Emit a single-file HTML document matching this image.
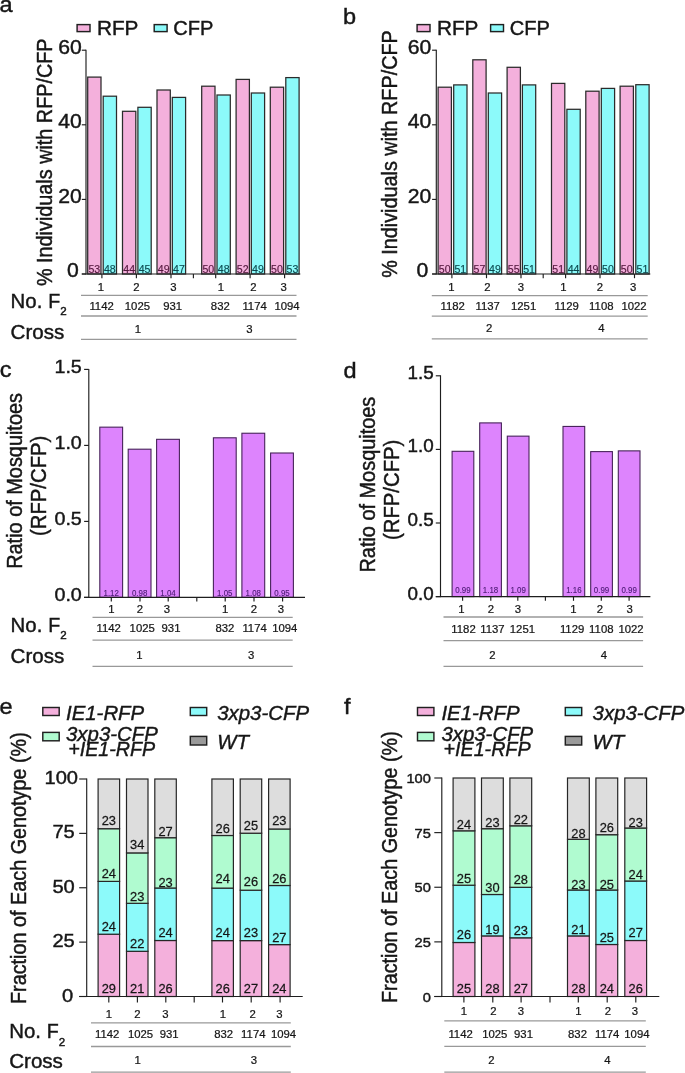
<!DOCTYPE html>
<html><head><meta charset="utf-8"><title>Figure</title>
<style>
html,body{margin:0;padding:0;background:#fff;}
body{width:685px;height:1073px;overflow:hidden;}
svg{display:block;font-family:"Liberation Sans",sans-serif;filter:blur(0.45px);}
</style></head><body>
<svg width="685" height="1073" viewBox="0 0 685 1073">
<rect x="0" y="0" width="685" height="1073" fill="#ffffff"/>
<text transform="translate(-0.60,11.80) scale(1.07,1)" font-size="22" text-anchor="start" fill="#161616" stroke="#161616" stroke-width="0.42">a</text>
<rect x="77.10" y="24.60" width="12.90" height="7.00" fill="#f4b0dc" stroke="#202020" stroke-width="1.45"/>
<text transform="translate(96.90,34.50) scale(1.07,1)" font-size="19.4" text-anchor="start" fill="#161616" stroke="#161616" stroke-width="0.42">RFP</text>
<rect x="154.20" y="24.60" width="12.90" height="7.00" fill="#8cfafa" stroke="#202020" stroke-width="1.45"/>
<text transform="translate(173.30,34.50) scale(1.035,1)" font-size="19.4" text-anchor="start" fill="#161616" stroke="#161616" stroke-width="0.42">CFP</text>
<text transform="translate(51.80,286.00) scale(1.07,1) rotate(-90)" font-size="19.8" text-anchor="start" fill="#161616" stroke="#161616" stroke-width="0.42">% Individuals with RFP/CFP</text>
<rect x="87.70" y="77.10" width="13.30" height="196.90" fill="#f4b0dc" stroke="#2b2b2b" stroke-width="1.25"/>
<text transform="translate(94.35,272.60) scale(1.0,1)" font-size="10.6" text-anchor="middle" fill="#55183f" stroke="#55183f" stroke-width="0.15">53</text>
<rect x="122.50" y="111.30" width="13.30" height="162.70" fill="#f4b0dc" stroke="#2b2b2b" stroke-width="1.25"/>
<text transform="translate(129.15,272.60) scale(1.0,1)" font-size="10.6" text-anchor="middle" fill="#55183f" stroke="#55183f" stroke-width="0.15">44</text>
<rect x="157.00" y="90.00" width="13.30" height="184.00" fill="#f4b0dc" stroke="#2b2b2b" stroke-width="1.25"/>
<text transform="translate(163.65,272.60) scale(1.0,1)" font-size="10.6" text-anchor="middle" fill="#55183f" stroke="#55183f" stroke-width="0.15">49</text>
<rect x="201.70" y="86.20" width="13.30" height="187.80" fill="#f4b0dc" stroke="#2b2b2b" stroke-width="1.25"/>
<text transform="translate(208.35,272.60) scale(1.0,1)" font-size="10.6" text-anchor="middle" fill="#55183f" stroke="#55183f" stroke-width="0.15">50</text>
<rect x="236.10" y="79.40" width="13.30" height="194.60" fill="#f4b0dc" stroke="#2b2b2b" stroke-width="1.25"/>
<text transform="translate(242.75,272.60) scale(1.0,1)" font-size="10.6" text-anchor="middle" fill="#55183f" stroke="#55183f" stroke-width="0.15">52</text>
<rect x="270.30" y="87.20" width="13.30" height="186.80" fill="#f4b0dc" stroke="#2b2b2b" stroke-width="1.25"/>
<text transform="translate(276.95,272.60) scale(1.0,1)" font-size="10.6" text-anchor="middle" fill="#55183f" stroke="#55183f" stroke-width="0.15">50</text>
<rect x="103.20" y="96.20" width="13.30" height="177.80" fill="#8cfafa" stroke="#2b2b2b" stroke-width="1.25"/>
<text transform="translate(109.85,272.60) scale(1.0,1)" font-size="10.6" text-anchor="middle" fill="#0c4a50" stroke="#0c4a50" stroke-width="0.15">48</text>
<rect x="137.90" y="107.30" width="13.30" height="166.70" fill="#8cfafa" stroke="#2b2b2b" stroke-width="1.25"/>
<text transform="translate(144.55,272.60) scale(1.0,1)" font-size="10.6" text-anchor="middle" fill="#0c4a50" stroke="#0c4a50" stroke-width="0.15">45</text>
<rect x="172.30" y="97.40" width="13.30" height="176.60" fill="#8cfafa" stroke="#2b2b2b" stroke-width="1.25"/>
<text transform="translate(178.95,272.60) scale(1.0,1)" font-size="10.6" text-anchor="middle" fill="#0c4a50" stroke="#0c4a50" stroke-width="0.15">47</text>
<rect x="217.00" y="95.00" width="13.30" height="179.00" fill="#8cfafa" stroke="#2b2b2b" stroke-width="1.25"/>
<text transform="translate(223.65,272.60) scale(1.0,1)" font-size="10.6" text-anchor="middle" fill="#0c4a50" stroke="#0c4a50" stroke-width="0.15">48</text>
<rect x="251.30" y="93.00" width="13.30" height="181.00" fill="#8cfafa" stroke="#2b2b2b" stroke-width="1.25"/>
<text transform="translate(257.95,272.60) scale(1.0,1)" font-size="10.6" text-anchor="middle" fill="#0c4a50" stroke="#0c4a50" stroke-width="0.15">49</text>
<rect x="285.80" y="77.60" width="13.30" height="196.40" fill="#8cfafa" stroke="#2b2b2b" stroke-width="1.25"/>
<text transform="translate(292.45,272.60) scale(1.0,1)" font-size="10.6" text-anchor="middle" fill="#0c4a50" stroke="#0c4a50" stroke-width="0.15">53</text>
<line x1="86.00" y1="49.70" x2="86.00" y2="274.50" stroke="#1e1e1e" stroke-width="1.15"/>
<line x1="81.80" y1="274.00" x2="86.00" y2="274.00" stroke="#1e1e1e" stroke-width="1.15"/>
<text transform="translate(78.70,277.40) scale(1.07,1)" font-size="19.8" text-anchor="end" fill="#161616" stroke="#161616" stroke-width="0.42">0</text>
<line x1="81.80" y1="199.40" x2="86.00" y2="199.40" stroke="#1e1e1e" stroke-width="1.15"/>
<text transform="translate(81.70,202.80) scale(1.07,1)" font-size="19.8" text-anchor="end" fill="#161616" stroke="#161616" stroke-width="0.42">20</text>
<line x1="81.80" y1="124.80" x2="86.00" y2="124.80" stroke="#1e1e1e" stroke-width="1.15"/>
<text transform="translate(81.70,128.20) scale(1.07,1)" font-size="19.8" text-anchor="end" fill="#161616" stroke="#161616" stroke-width="0.42">40</text>
<line x1="81.80" y1="50.20" x2="86.00" y2="50.20" stroke="#1e1e1e" stroke-width="1.15"/>
<text transform="translate(81.70,53.60) scale(1.07,1)" font-size="19.8" text-anchor="end" fill="#161616" stroke="#161616" stroke-width="0.42">60</text>
<line x1="81.80" y1="274.00" x2="300.30" y2="274.00" stroke="#1e1e1e" stroke-width="1.15"/>
<line x1="101.90" y1="274.00" x2="101.90" y2="278.20" stroke="#1e1e1e" stroke-width="1.15"/>
<line x1="136.40" y1="274.00" x2="136.40" y2="278.20" stroke="#1e1e1e" stroke-width="1.15"/>
<line x1="171.00" y1="274.00" x2="171.00" y2="278.20" stroke="#1e1e1e" stroke-width="1.15"/>
<line x1="193.40" y1="274.00" x2="193.40" y2="278.20" stroke="#1e1e1e" stroke-width="1.15"/>
<line x1="215.70" y1="274.00" x2="215.70" y2="278.20" stroke="#1e1e1e" stroke-width="1.15"/>
<line x1="250.10" y1="274.00" x2="250.10" y2="278.20" stroke="#1e1e1e" stroke-width="1.15"/>
<line x1="284.60" y1="274.00" x2="284.60" y2="278.20" stroke="#1e1e1e" stroke-width="1.15"/>
<line x1="81.00" y1="295.40" x2="296.50" y2="295.40" stroke="#999999" stroke-width="1.3"/>
<line x1="81.00" y1="316.00" x2="296.50" y2="316.00" stroke="#999999" stroke-width="1.3"/>
<line x1="81.00" y1="339.40" x2="296.50" y2="339.40" stroke="#999999" stroke-width="1.3"/>
<text transform="translate(101.00,290.60) scale(1.07,1)" font-size="10.6" text-anchor="middle" fill="#161616" stroke="#161616" stroke-width="0.22">1</text>
<text transform="translate(136.40,290.60) scale(1.07,1)" font-size="10.6" text-anchor="middle" fill="#161616" stroke="#161616" stroke-width="0.22">2</text>
<text transform="translate(173.30,290.60) scale(1.07,1)" font-size="10.6" text-anchor="middle" fill="#161616" stroke="#161616" stroke-width="0.22">3</text>
<text transform="translate(221.00,290.60) scale(1.07,1)" font-size="10.6" text-anchor="middle" fill="#161616" stroke="#161616" stroke-width="0.22">1</text>
<text transform="translate(253.40,290.60) scale(1.07,1)" font-size="10.6" text-anchor="middle" fill="#161616" stroke="#161616" stroke-width="0.22">2</text>
<text transform="translate(283.70,290.60) scale(1.07,1)" font-size="10.6" text-anchor="middle" fill="#161616" stroke="#161616" stroke-width="0.22">3</text>
<text transform="translate(101.60,310.00) scale(1.07,1)" font-size="10.6" text-anchor="middle" fill="#161616" stroke="#161616" stroke-width="0.22">1142</text>
<text transform="translate(137.40,310.00) scale(1.07,1)" font-size="10.6" text-anchor="middle" fill="#161616" stroke="#161616" stroke-width="0.22">1025</text>
<text transform="translate(172.60,310.00) scale(1.07,1)" font-size="10.6" text-anchor="middle" fill="#161616" stroke="#161616" stroke-width="0.22">931</text>
<text transform="translate(220.30,310.00) scale(1.07,1)" font-size="10.6" text-anchor="middle" fill="#161616" stroke="#161616" stroke-width="0.22">832</text>
<text transform="translate(254.60,310.00) scale(1.07,1)" font-size="10.6" text-anchor="middle" fill="#161616" stroke="#161616" stroke-width="0.22">1174</text>
<text transform="translate(287.00,310.00) scale(1.07,1)" font-size="10.6" text-anchor="middle" fill="#161616" stroke="#161616" stroke-width="0.22">1094</text>
<text transform="translate(137.80,332.70) scale(1.07,1)" font-size="10.6" text-anchor="middle" fill="#161616" stroke="#161616" stroke-width="0.22">1</text>
<text transform="translate(249.50,332.70) scale(1.07,1)" font-size="10.6" text-anchor="middle" fill="#161616" stroke="#161616" stroke-width="0.22">3</text>
<text transform="translate(10.60,308.20) scale(1.04,1)" font-size="19.6" text-anchor="start" fill="#161616" stroke="#161616" stroke-width="0.42">No.</text>
<text transform="translate(48.20,308.20) scale(1.0,1)" font-size="19.6" text-anchor="start" fill="#161616" stroke="#161616" stroke-width="0.42">F</text>
<text transform="translate(60.20,315.40) scale(1.07,1)" font-size="10.8" text-anchor="start" fill="#161616" stroke="#161616" stroke-width="0.42">2</text>
<text transform="translate(10.60,339.00) scale(1.05,1)" font-size="19.6" text-anchor="start" fill="#161616" stroke="#161616" stroke-width="0.42">Cross</text>
<text transform="translate(343.00,23.80) scale(1.07,1)" font-size="22" text-anchor="start" fill="#161616" stroke="#161616" stroke-width="0.42">b</text>
<rect x="417.10" y="24.60" width="12.90" height="7.00" fill="#f4b0dc" stroke="#202020" stroke-width="1.45"/>
<text transform="translate(436.90,34.50) scale(1.07,1)" font-size="19.4" text-anchor="start" fill="#161616" stroke="#161616" stroke-width="0.42">RFP</text>
<rect x="490.60" y="24.60" width="12.90" height="7.00" fill="#8cfafa" stroke="#202020" stroke-width="1.45"/>
<text transform="translate(509.80,34.50) scale(1.035,1)" font-size="19.4" text-anchor="start" fill="#161616" stroke="#161616" stroke-width="0.42">CFP</text>
<text transform="translate(396.90,277.80) scale(1.07,1) rotate(-90)" font-size="19.8" text-anchor="start" fill="#161616" stroke="#161616" stroke-width="0.42">% Individuals with RFP/CFP</text>
<rect x="438.10" y="87.20" width="13.30" height="186.80" fill="#f4b0dc" stroke="#2b2b2b" stroke-width="1.25"/>
<text transform="translate(444.75,272.60) scale(1.0,1)" font-size="10.6" text-anchor="middle" fill="#55183f" stroke="#55183f" stroke-width="0.15">50</text>
<rect x="472.80" y="59.80" width="13.30" height="214.20" fill="#f4b0dc" stroke="#2b2b2b" stroke-width="1.25"/>
<text transform="translate(479.45,272.60) scale(1.0,1)" font-size="10.6" text-anchor="middle" fill="#55183f" stroke="#55183f" stroke-width="0.15">57</text>
<rect x="507.10" y="67.30" width="13.30" height="206.70" fill="#f4b0dc" stroke="#2b2b2b" stroke-width="1.25"/>
<text transform="translate(513.75,272.60) scale(1.0,1)" font-size="10.6" text-anchor="middle" fill="#55183f" stroke="#55183f" stroke-width="0.15">55</text>
<rect x="551.50" y="83.40" width="13.30" height="190.60" fill="#f4b0dc" stroke="#2b2b2b" stroke-width="1.25"/>
<text transform="translate(558.15,272.60) scale(1.0,1)" font-size="10.6" text-anchor="middle" fill="#55183f" stroke="#55183f" stroke-width="0.15">51</text>
<rect x="585.80" y="91.20" width="13.30" height="182.80" fill="#f4b0dc" stroke="#2b2b2b" stroke-width="1.25"/>
<text transform="translate(592.45,272.60) scale(1.0,1)" font-size="10.6" text-anchor="middle" fill="#55183f" stroke="#55183f" stroke-width="0.15">49</text>
<rect x="620.10" y="86.20" width="13.30" height="187.80" fill="#f4b0dc" stroke="#2b2b2b" stroke-width="1.25"/>
<text transform="translate(626.75,272.60) scale(1.0,1)" font-size="10.6" text-anchor="middle" fill="#55183f" stroke="#55183f" stroke-width="0.15">50</text>
<rect x="453.70" y="84.90" width="13.30" height="189.10" fill="#8cfafa" stroke="#2b2b2b" stroke-width="1.25"/>
<text transform="translate(460.35,272.60) scale(1.0,1)" font-size="10.6" text-anchor="middle" fill="#0c4a50" stroke="#0c4a50" stroke-width="0.15">51</text>
<rect x="488.30" y="93.00" width="13.30" height="181.00" fill="#8cfafa" stroke="#2b2b2b" stroke-width="1.25"/>
<text transform="translate(494.95,272.60) scale(1.0,1)" font-size="10.6" text-anchor="middle" fill="#0c4a50" stroke="#0c4a50" stroke-width="0.15">49</text>
<rect x="522.40" y="84.90" width="13.30" height="189.10" fill="#8cfafa" stroke="#2b2b2b" stroke-width="1.25"/>
<text transform="translate(529.05,272.60) scale(1.0,1)" font-size="10.6" text-anchor="middle" fill="#0c4a50" stroke="#0c4a50" stroke-width="0.15">51</text>
<rect x="566.90" y="109.30" width="13.30" height="164.70" fill="#8cfafa" stroke="#2b2b2b" stroke-width="1.25"/>
<text transform="translate(573.55,272.60) scale(1.0,1)" font-size="10.6" text-anchor="middle" fill="#0c4a50" stroke="#0c4a50" stroke-width="0.15">44</text>
<rect x="601.30" y="88.40" width="13.30" height="185.60" fill="#8cfafa" stroke="#2b2b2b" stroke-width="1.25"/>
<text transform="translate(607.95,272.60) scale(1.0,1)" font-size="10.6" text-anchor="middle" fill="#0c4a50" stroke="#0c4a50" stroke-width="0.15">50</text>
<rect x="635.80" y="84.70" width="13.30" height="189.30" fill="#8cfafa" stroke="#2b2b2b" stroke-width="1.25"/>
<text transform="translate(642.45,272.60) scale(1.0,1)" font-size="10.6" text-anchor="middle" fill="#0c4a50" stroke="#0c4a50" stroke-width="0.15">51</text>
<line x1="436.30" y1="49.70" x2="436.30" y2="274.50" stroke="#1e1e1e" stroke-width="1.15"/>
<line x1="432.10" y1="274.00" x2="436.30" y2="274.00" stroke="#1e1e1e" stroke-width="1.15"/>
<text transform="translate(428.20,277.40) scale(1.07,1)" font-size="19.8" text-anchor="end" fill="#161616" stroke="#161616" stroke-width="0.42">0</text>
<line x1="432.10" y1="199.40" x2="436.30" y2="199.40" stroke="#1e1e1e" stroke-width="1.15"/>
<text transform="translate(431.20,202.80) scale(1.07,1)" font-size="19.8" text-anchor="end" fill="#161616" stroke="#161616" stroke-width="0.42">20</text>
<line x1="432.10" y1="124.80" x2="436.30" y2="124.80" stroke="#1e1e1e" stroke-width="1.15"/>
<text transform="translate(431.20,128.20) scale(1.07,1)" font-size="19.8" text-anchor="end" fill="#161616" stroke="#161616" stroke-width="0.42">40</text>
<line x1="432.10" y1="50.20" x2="436.30" y2="50.20" stroke="#1e1e1e" stroke-width="1.15"/>
<text transform="translate(431.20,53.60) scale(1.07,1)" font-size="19.8" text-anchor="end" fill="#161616" stroke="#161616" stroke-width="0.42">60</text>
<line x1="432.10" y1="274.00" x2="650.30" y2="274.00" stroke="#1e1e1e" stroke-width="1.15"/>
<line x1="451.90" y1="274.00" x2="451.90" y2="278.20" stroke="#1e1e1e" stroke-width="1.15"/>
<line x1="486.50" y1="274.00" x2="486.50" y2="278.20" stroke="#1e1e1e" stroke-width="1.15"/>
<line x1="521.00" y1="274.00" x2="521.00" y2="278.20" stroke="#1e1e1e" stroke-width="1.15"/>
<line x1="543.20" y1="274.00" x2="543.20" y2="278.20" stroke="#1e1e1e" stroke-width="1.15"/>
<line x1="565.60" y1="274.00" x2="565.60" y2="278.20" stroke="#1e1e1e" stroke-width="1.15"/>
<line x1="600.00" y1="274.00" x2="600.00" y2="278.20" stroke="#1e1e1e" stroke-width="1.15"/>
<line x1="634.50" y1="274.00" x2="634.50" y2="278.20" stroke="#1e1e1e" stroke-width="1.15"/>
<line x1="431.80" y1="295.60" x2="647.70" y2="295.60" stroke="#999999" stroke-width="1.3"/>
<line x1="431.80" y1="316.20" x2="647.70" y2="316.20" stroke="#999999" stroke-width="1.3"/>
<line x1="431.80" y1="338.80" x2="647.70" y2="338.80" stroke="#999999" stroke-width="1.3"/>
<text transform="translate(451.50,290.60) scale(1.07,1)" font-size="10.6" text-anchor="middle" fill="#161616" stroke="#161616" stroke-width="0.22">1</text>
<text transform="translate(487.40,290.60) scale(1.07,1)" font-size="10.6" text-anchor="middle" fill="#161616" stroke="#161616" stroke-width="0.22">2</text>
<text transform="translate(521.00,290.60) scale(1.07,1)" font-size="10.6" text-anchor="middle" fill="#161616" stroke="#161616" stroke-width="0.22">3</text>
<text transform="translate(563.50,290.60) scale(1.07,1)" font-size="10.6" text-anchor="middle" fill="#161616" stroke="#161616" stroke-width="0.22">1</text>
<text transform="translate(600.00,290.60) scale(1.07,1)" font-size="10.6" text-anchor="middle" fill="#161616" stroke="#161616" stroke-width="0.22">2</text>
<text transform="translate(633.20,290.60) scale(1.07,1)" font-size="10.6" text-anchor="middle" fill="#161616" stroke="#161616" stroke-width="0.22">3</text>
<text transform="translate(452.70,310.00) scale(1.07,1)" font-size="10.6" text-anchor="middle" fill="#161616" stroke="#161616" stroke-width="0.22">1182</text>
<text transform="translate(487.70,310.00) scale(1.07,1)" font-size="10.6" text-anchor="middle" fill="#161616" stroke="#161616" stroke-width="0.22">1137</text>
<text transform="translate(523.60,310.00) scale(1.07,1)" font-size="10.6" text-anchor="middle" fill="#161616" stroke="#161616" stroke-width="0.22">1251</text>
<text transform="translate(566.70,310.00) scale(1.07,1)" font-size="10.6" text-anchor="middle" fill="#161616" stroke="#161616" stroke-width="0.22">1129</text>
<text transform="translate(601.30,310.00) scale(1.07,1)" font-size="10.6" text-anchor="middle" fill="#161616" stroke="#161616" stroke-width="0.22">1108</text>
<text transform="translate(634.00,310.00) scale(1.07,1)" font-size="10.6" text-anchor="middle" fill="#161616" stroke="#161616" stroke-width="0.22">1022</text>
<text transform="translate(489.20,332.30) scale(1.07,1)" font-size="10.6" text-anchor="middle" fill="#161616" stroke="#161616" stroke-width="0.22">2</text>
<text transform="translate(601.30,332.30) scale(1.07,1)" font-size="10.6" text-anchor="middle" fill="#161616" stroke="#161616" stroke-width="0.22">4</text>
<text transform="translate(-0.20,377.00) scale(1.07,1)" font-size="22" text-anchor="start" fill="#161616" stroke="#161616" stroke-width="0.42">c</text>
<text transform="translate(22.40,568.80) scale(1.07,1) rotate(-90)" font-size="19.9" text-anchor="start" fill="#161616" stroke="#161616" stroke-width="0.42">Ratio of Mosquitoes</text>
<text transform="translate(46.10,536.00) scale(1.07,1) rotate(-90)" font-size="20.3" text-anchor="start" fill="#161616" stroke="#161616" stroke-width="0.42">(RFP/CFP)</text>
<rect x="99.80" y="427.16" width="22.80" height="170.24" fill="#dd84fd" stroke="#47235a" stroke-width="1.1"/>
<text transform="translate(111.20,596.20) scale(0.9,1)" font-size="8.8" text-anchor="middle" fill="#4b1a73" stroke="#4b1a73" stroke-width="0.12">1.12</text>
<rect x="128.20" y="449.20" width="22.80" height="148.20" fill="#dd84fd" stroke="#47235a" stroke-width="1.1"/>
<text transform="translate(139.60,596.20) scale(0.9,1)" font-size="8.8" text-anchor="middle" fill="#4b1a73" stroke="#4b1a73" stroke-width="0.12">0.98</text>
<rect x="156.60" y="439.32" width="22.80" height="158.08" fill="#dd84fd" stroke="#47235a" stroke-width="1.1"/>
<text transform="translate(168.00,596.20) scale(0.9,1)" font-size="8.8" text-anchor="middle" fill="#4b1a73" stroke="#4b1a73" stroke-width="0.12">1.04</text>
<rect x="213.40" y="437.80" width="22.80" height="159.60" fill="#dd84fd" stroke="#47235a" stroke-width="1.1"/>
<text transform="translate(224.80,596.20) scale(0.9,1)" font-size="8.8" text-anchor="middle" fill="#4b1a73" stroke="#4b1a73" stroke-width="0.12">1.05</text>
<rect x="241.90" y="433.24" width="22.80" height="164.16" fill="#dd84fd" stroke="#47235a" stroke-width="1.1"/>
<text transform="translate(253.30,596.20) scale(0.9,1)" font-size="8.8" text-anchor="middle" fill="#4b1a73" stroke="#4b1a73" stroke-width="0.12">1.08</text>
<rect x="270.60" y="453.00" width="22.80" height="144.40" fill="#dd84fd" stroke="#47235a" stroke-width="1.1"/>
<text transform="translate(282.00,596.20) scale(0.9,1)" font-size="8.8" text-anchor="middle" fill="#4b1a73" stroke="#4b1a73" stroke-width="0.12">0.95</text>
<line x1="88.80" y1="368.90" x2="88.80" y2="597.90" stroke="#1e1e1e" stroke-width="1.15"/>
<line x1="84.10" y1="597.40" x2="88.80" y2="597.40" stroke="#1e1e1e" stroke-width="1.15"/>
<text transform="translate(81.80,600.80) scale(1.07,1)" font-size="18.4" text-anchor="end" fill="#161616" stroke="#161616" stroke-width="0.42">0.0</text>
<line x1="84.10" y1="521.40" x2="88.80" y2="521.40" stroke="#1e1e1e" stroke-width="1.15"/>
<text transform="translate(81.80,524.80) scale(1.07,1)" font-size="18.4" text-anchor="end" fill="#161616" stroke="#161616" stroke-width="0.42">0.5</text>
<line x1="84.10" y1="445.40" x2="88.80" y2="445.40" stroke="#1e1e1e" stroke-width="1.15"/>
<text transform="translate(81.80,448.80) scale(1.07,1)" font-size="18.4" text-anchor="end" fill="#161616" stroke="#161616" stroke-width="0.42">1.0</text>
<line x1="84.10" y1="369.40" x2="88.80" y2="369.40" stroke="#1e1e1e" stroke-width="1.15"/>
<text transform="translate(81.80,372.80) scale(1.07,1)" font-size="18.4" text-anchor="end" fill="#161616" stroke="#161616" stroke-width="0.42">1.5</text>
<line x1="84.10" y1="597.40" x2="305.00" y2="597.40" stroke="#1e1e1e" stroke-width="1.15"/>
<line x1="111.30" y1="597.40" x2="111.30" y2="601.60" stroke="#1e1e1e" stroke-width="1.15"/>
<line x1="140.00" y1="597.40" x2="140.00" y2="601.60" stroke="#1e1e1e" stroke-width="1.15"/>
<line x1="168.20" y1="597.40" x2="168.20" y2="601.60" stroke="#1e1e1e" stroke-width="1.15"/>
<line x1="196.80" y1="597.40" x2="196.80" y2="601.60" stroke="#1e1e1e" stroke-width="1.15"/>
<line x1="225.20" y1="597.40" x2="225.20" y2="601.60" stroke="#1e1e1e" stroke-width="1.15"/>
<line x1="254.00" y1="597.40" x2="254.00" y2="601.60" stroke="#1e1e1e" stroke-width="1.15"/>
<line x1="282.60" y1="597.40" x2="282.60" y2="601.60" stroke="#1e1e1e" stroke-width="1.15"/>
<line x1="92.50" y1="617.30" x2="292.70" y2="617.30" stroke="#999999" stroke-width="1.3"/>
<line x1="92.50" y1="640.20" x2="292.70" y2="640.20" stroke="#999999" stroke-width="1.3"/>
<line x1="92.50" y1="666.30" x2="292.70" y2="666.30" stroke="#999999" stroke-width="1.3"/>
<text transform="translate(111.30,612.60) scale(1.07,1)" font-size="10.6" text-anchor="middle" fill="#161616" stroke="#161616" stroke-width="0.22">1</text>
<text transform="translate(140.00,612.60) scale(1.07,1)" font-size="10.6" text-anchor="middle" fill="#161616" stroke="#161616" stroke-width="0.22">2</text>
<text transform="translate(167.00,612.60) scale(1.07,1)" font-size="10.6" text-anchor="middle" fill="#161616" stroke="#161616" stroke-width="0.22">3</text>
<text transform="translate(225.20,612.60) scale(1.07,1)" font-size="10.6" text-anchor="middle" fill="#161616" stroke="#161616" stroke-width="0.22">1</text>
<text transform="translate(254.00,612.60) scale(1.07,1)" font-size="10.6" text-anchor="middle" fill="#161616" stroke="#161616" stroke-width="0.22">2</text>
<text transform="translate(280.90,612.60) scale(1.07,1)" font-size="10.6" text-anchor="middle" fill="#161616" stroke="#161616" stroke-width="0.22">3</text>
<text transform="translate(108.70,631.90) scale(1.07,1)" font-size="10.6" text-anchor="middle" fill="#161616" stroke="#161616" stroke-width="0.22">1142</text>
<text transform="translate(142.20,631.90) scale(1.07,1)" font-size="10.6" text-anchor="middle" fill="#161616" stroke="#161616" stroke-width="0.22">1025</text>
<text transform="translate(171.00,631.90) scale(1.07,1)" font-size="10.6" text-anchor="middle" fill="#161616" stroke="#161616" stroke-width="0.22">931</text>
<text transform="translate(224.90,631.90) scale(1.07,1)" font-size="10.6" text-anchor="middle" fill="#161616" stroke="#161616" stroke-width="0.22">832</text>
<text transform="translate(254.60,631.90) scale(1.07,1)" font-size="10.6" text-anchor="middle" fill="#161616" stroke="#161616" stroke-width="0.22">1174</text>
<text transform="translate(284.80,631.90) scale(1.07,1)" font-size="10.6" text-anchor="middle" fill="#161616" stroke="#161616" stroke-width="0.22">1094</text>
<text transform="translate(139.40,658.80) scale(1.07,1)" font-size="10.6" text-anchor="middle" fill="#161616" stroke="#161616" stroke-width="0.22">1</text>
<text transform="translate(251.20,658.80) scale(1.07,1)" font-size="10.6" text-anchor="middle" fill="#161616" stroke="#161616" stroke-width="0.22">3</text>
<text transform="translate(10.60,631.90) scale(1.04,1)" font-size="19.6" text-anchor="start" fill="#161616" stroke="#161616" stroke-width="0.42">No.</text>
<text transform="translate(48.20,631.90) scale(1.0,1)" font-size="19.6" text-anchor="start" fill="#161616" stroke="#161616" stroke-width="0.42">F</text>
<text transform="translate(60.20,639.10) scale(1.07,1)" font-size="10.8" text-anchor="start" fill="#161616" stroke="#161616" stroke-width="0.42">2</text>
<text transform="translate(10.60,662.80) scale(1.05,1)" font-size="19.6" text-anchor="start" fill="#161616" stroke="#161616" stroke-width="0.42">Cross</text>
<text transform="translate(343.40,378.00) scale(1.07,1)" font-size="22" text-anchor="start" fill="#161616" stroke="#161616" stroke-width="0.42">d</text>
<text transform="translate(375.40,572.50) scale(1.07,1) rotate(-90)" font-size="19.9" text-anchor="start" fill="#161616" stroke="#161616" stroke-width="0.42">Ratio of Mosquitoes</text>
<text transform="translate(399.20,540.00) scale(1.07,1) rotate(-90)" font-size="20.3" text-anchor="start" fill="#161616" stroke="#161616" stroke-width="0.42">(RFP/CFP)</text>
<rect x="452.10" y="451.31" width="21.70" height="145.29" fill="#dd84fd" stroke="#47235a" stroke-width="1.1"/>
<text transform="translate(462.95,592.70) scale(0.9,1)" font-size="8.8" text-anchor="middle" fill="#4b1a73" stroke="#4b1a73" stroke-width="0.12">0.99</text>
<rect x="479.70" y="422.90" width="21.70" height="173.70" fill="#dd84fd" stroke="#47235a" stroke-width="1.1"/>
<text transform="translate(490.55,592.70) scale(0.9,1)" font-size="8.8" text-anchor="middle" fill="#4b1a73" stroke="#4b1a73" stroke-width="0.12">1.18</text>
<rect x="507.30" y="436.15" width="21.70" height="160.45" fill="#dd84fd" stroke="#47235a" stroke-width="1.1"/>
<text transform="translate(518.15,592.70) scale(0.9,1)" font-size="8.8" text-anchor="middle" fill="#4b1a73" stroke="#4b1a73" stroke-width="0.12">1.09</text>
<rect x="563.00" y="426.44" width="21.70" height="170.16" fill="#dd84fd" stroke="#47235a" stroke-width="1.1"/>
<text transform="translate(573.85,592.70) scale(0.9,1)" font-size="8.8" text-anchor="middle" fill="#4b1a73" stroke="#4b1a73" stroke-width="0.12">1.16</text>
<rect x="590.70" y="451.61" width="21.70" height="144.99" fill="#dd84fd" stroke="#47235a" stroke-width="1.1"/>
<text transform="translate(601.55,592.70) scale(0.9,1)" font-size="8.8" text-anchor="middle" fill="#4b1a73" stroke="#4b1a73" stroke-width="0.12">0.99</text>
<rect x="618.30" y="450.87" width="21.70" height="145.73" fill="#dd84fd" stroke="#47235a" stroke-width="1.1"/>
<text transform="translate(629.15,592.70) scale(0.9,1)" font-size="8.8" text-anchor="middle" fill="#4b1a73" stroke="#4b1a73" stroke-width="0.12">0.99</text>
<line x1="440.50" y1="375.30" x2="440.50" y2="597.10" stroke="#1e1e1e" stroke-width="1.15"/>
<line x1="435.80" y1="596.60" x2="440.50" y2="596.60" stroke="#1e1e1e" stroke-width="1.15"/>
<text transform="translate(433.60,599.50) scale(1.07,1)" font-size="17.6" text-anchor="end" fill="#161616" stroke="#161616" stroke-width="0.42">0.0</text>
<line x1="435.80" y1="523.00" x2="440.50" y2="523.00" stroke="#1e1e1e" stroke-width="1.15"/>
<text transform="translate(433.60,525.90) scale(1.07,1)" font-size="17.6" text-anchor="end" fill="#161616" stroke="#161616" stroke-width="0.42">0.5</text>
<line x1="435.80" y1="449.40" x2="440.50" y2="449.40" stroke="#1e1e1e" stroke-width="1.15"/>
<text transform="translate(433.60,452.30) scale(1.07,1)" font-size="17.6" text-anchor="end" fill="#161616" stroke="#161616" stroke-width="0.42">1.0</text>
<line x1="435.80" y1="375.80" x2="440.50" y2="375.80" stroke="#1e1e1e" stroke-width="1.15"/>
<text transform="translate(433.60,378.70) scale(1.07,1)" font-size="17.6" text-anchor="end" fill="#161616" stroke="#161616" stroke-width="0.42">1.5</text>
<line x1="435.80" y1="596.60" x2="650.40" y2="596.60" stroke="#1e1e1e" stroke-width="1.15"/>
<line x1="462.60" y1="596.60" x2="462.60" y2="600.80" stroke="#1e1e1e" stroke-width="1.15"/>
<line x1="490.80" y1="596.60" x2="490.80" y2="600.80" stroke="#1e1e1e" stroke-width="1.15"/>
<line x1="517.80" y1="596.60" x2="517.80" y2="600.80" stroke="#1e1e1e" stroke-width="1.15"/>
<line x1="545.40" y1="596.60" x2="545.40" y2="600.80" stroke="#1e1e1e" stroke-width="1.15"/>
<line x1="573.50" y1="596.60" x2="573.50" y2="600.80" stroke="#1e1e1e" stroke-width="1.15"/>
<line x1="601.30" y1="596.60" x2="601.30" y2="600.80" stroke="#1e1e1e" stroke-width="1.15"/>
<line x1="629.10" y1="596.60" x2="629.10" y2="600.80" stroke="#1e1e1e" stroke-width="1.15"/>
<line x1="443.50" y1="617.00" x2="643.10" y2="617.00" stroke="#999999" stroke-width="1.3"/>
<line x1="443.50" y1="640.70" x2="643.10" y2="640.70" stroke="#999999" stroke-width="1.3"/>
<line x1="443.50" y1="666.30" x2="643.10" y2="666.30" stroke="#999999" stroke-width="1.3"/>
<text transform="translate(461.40,613.00) scale(1.07,1)" font-size="10.6" text-anchor="middle" fill="#161616" stroke="#161616" stroke-width="0.22">1</text>
<text transform="translate(490.80,613.00) scale(1.07,1)" font-size="10.6" text-anchor="middle" fill="#161616" stroke="#161616" stroke-width="0.22">2</text>
<text transform="translate(517.80,613.00) scale(1.07,1)" font-size="10.6" text-anchor="middle" fill="#161616" stroke="#161616" stroke-width="0.22">3</text>
<text transform="translate(573.50,613.00) scale(1.07,1)" font-size="10.6" text-anchor="middle" fill="#161616" stroke="#161616" stroke-width="0.22">1</text>
<text transform="translate(599.90,613.00) scale(1.07,1)" font-size="10.6" text-anchor="middle" fill="#161616" stroke="#161616" stroke-width="0.22">2</text>
<text transform="translate(629.60,613.00) scale(1.07,1)" font-size="10.6" text-anchor="middle" fill="#161616" stroke="#161616" stroke-width="0.22">3</text>
<text transform="translate(463.50,633.20) scale(1.07,1)" font-size="10.6" text-anchor="middle" fill="#161616" stroke="#161616" stroke-width="0.22">1182</text>
<text transform="translate(492.40,633.20) scale(1.07,1)" font-size="10.6" text-anchor="middle" fill="#161616" stroke="#161616" stroke-width="0.22">1137</text>
<text transform="translate(522.40,633.20) scale(1.07,1)" font-size="10.6" text-anchor="middle" fill="#161616" stroke="#161616" stroke-width="0.22">1251</text>
<text transform="translate(572.10,633.20) scale(1.07,1)" font-size="10.6" text-anchor="middle" fill="#161616" stroke="#161616" stroke-width="0.22">1129</text>
<text transform="translate(601.30,633.20) scale(1.07,1)" font-size="10.6" text-anchor="middle" fill="#161616" stroke="#161616" stroke-width="0.22">1108</text>
<text transform="translate(631.00,633.20) scale(1.07,1)" font-size="10.6" text-anchor="middle" fill="#161616" stroke="#161616" stroke-width="0.22">1022</text>
<text transform="translate(492.50,658.80) scale(1.07,1)" font-size="10.6" text-anchor="middle" fill="#161616" stroke="#161616" stroke-width="0.22">2</text>
<text transform="translate(604.00,658.80) scale(1.07,1)" font-size="10.6" text-anchor="middle" fill="#161616" stroke="#161616" stroke-width="0.22">4</text>
<text transform="translate(-0.40,714.00) scale(1.07,1)" font-size="22" text-anchor="start" fill="#161616" stroke="#161616" stroke-width="0.42">e</text>
<rect x="42.80" y="707.50" width="16.40" height="8.00" fill="#f4b0dc" stroke="#202020" stroke-width="1.45"/>
<text transform="translate(66.00,719.80) scale(1.0,1)" font-size="20.4" text-anchor="start" fill="#161616" stroke="#161616" stroke-width="0.42" font-style="italic">IE1-RFP</text>
<rect x="42.80" y="732.40" width="16.40" height="8.40" fill="#b0fbd0" stroke="#202020" stroke-width="1.45"/>
<text transform="translate(66.00,740.60) scale(1.0,1)" font-size="20.4" text-anchor="start" fill="#161616" stroke="#161616" stroke-width="0.42" font-style="italic">3xp3-CFP</text>
<text transform="translate(68.20,755.90) scale(0.965,1)" font-size="20.4" text-anchor="start" fill="#161616" stroke="#161616" stroke-width="0.42" font-style="italic">+IE1-RFP</text>
<rect x="190.30" y="707.50" width="16.40" height="8.00" fill="#8cfafa" stroke="#202020" stroke-width="1.45"/>
<text transform="translate(217.20,719.60) scale(1.0,1)" font-size="20.4" text-anchor="start" fill="#161616" stroke="#161616" stroke-width="0.42" font-style="italic">3xp3-CFP</text>
<rect x="190.30" y="736.40" width="16.40" height="8.60" fill="#9a9a9a" stroke="#202020" stroke-width="1.45"/>
<text transform="translate(217.20,748.50) scale(1.0,1)" font-size="20.4" text-anchor="start" fill="#161616" stroke="#161616" stroke-width="0.42" font-style="italic">WT</text>
<text transform="translate(25.60,1004.00) scale(1.07,1) rotate(-90)" font-size="19.8" text-anchor="start" fill="#161616" stroke="#161616" stroke-width="0.42">Fraction of Each Genotype (%)</text>
<rect x="98.10" y="934.20" width="21.50" height="62.30" fill="#f4b0dc" stroke="#262626" stroke-width="1.2"/>
<rect x="98.10" y="881.40" width="21.50" height="52.80" fill="#8cfafa" stroke="#262626" stroke-width="1.2"/>
<rect x="98.10" y="828.70" width="21.50" height="52.70" fill="#b0fbd0" stroke="#262626" stroke-width="1.2"/>
<rect x="98.10" y="779.00" width="21.50" height="49.70" fill="#dddddd" stroke="#262626" stroke-width="1.2"/>
<text transform="translate(108.85,993.30) scale(0.96,1)" font-size="13.4" text-anchor="middle" fill="#161616" stroke="#161616" stroke-width="0.25">29</text>
<text transform="translate(108.85,930.90) scale(0.96,1)" font-size="13.4" text-anchor="middle" fill="#161616" stroke="#161616" stroke-width="0.25">24</text>
<text transform="translate(108.85,878.00) scale(0.96,1)" font-size="13.4" text-anchor="middle" fill="#161616" stroke="#161616" stroke-width="0.25">24</text>
<text transform="translate(108.85,824.70) scale(0.96,1)" font-size="13.4" text-anchor="middle" fill="#161616" stroke="#161616" stroke-width="0.25">23</text>
<rect x="126.50" y="951.30" width="21.50" height="45.20" fill="#f4b0dc" stroke="#262626" stroke-width="1.2"/>
<rect x="126.50" y="903.30" width="21.50" height="48.00" fill="#8cfafa" stroke="#262626" stroke-width="1.2"/>
<rect x="126.50" y="852.90" width="21.50" height="50.40" fill="#b0fbd0" stroke="#262626" stroke-width="1.2"/>
<rect x="126.50" y="779.00" width="21.50" height="73.90" fill="#dddddd" stroke="#262626" stroke-width="1.2"/>
<text transform="translate(137.25,993.30) scale(0.96,1)" font-size="13.4" text-anchor="middle" fill="#161616" stroke="#161616" stroke-width="0.25">21</text>
<text transform="translate(137.25,948.10) scale(0.96,1)" font-size="13.4" text-anchor="middle" fill="#161616" stroke="#161616" stroke-width="0.25">22</text>
<text transform="translate(137.25,900.60) scale(0.96,1)" font-size="13.4" text-anchor="middle" fill="#161616" stroke="#161616" stroke-width="0.25">23</text>
<text transform="translate(137.25,849.40) scale(0.96,1)" font-size="13.4" text-anchor="middle" fill="#161616" stroke="#161616" stroke-width="0.25">34</text>
<rect x="154.80" y="940.50" width="21.50" height="56.00" fill="#f4b0dc" stroke="#262626" stroke-width="1.2"/>
<rect x="154.80" y="888.00" width="21.50" height="52.50" fill="#8cfafa" stroke="#262626" stroke-width="1.2"/>
<rect x="154.80" y="837.70" width="21.50" height="50.30" fill="#b0fbd0" stroke="#262626" stroke-width="1.2"/>
<rect x="154.80" y="779.00" width="21.50" height="58.70" fill="#dddddd" stroke="#262626" stroke-width="1.2"/>
<text transform="translate(165.55,993.30) scale(0.96,1)" font-size="13.4" text-anchor="middle" fill="#161616" stroke="#161616" stroke-width="0.25">26</text>
<text transform="translate(165.55,937.10) scale(0.96,1)" font-size="13.4" text-anchor="middle" fill="#161616" stroke="#161616" stroke-width="0.25">24</text>
<text transform="translate(165.55,886.60) scale(0.96,1)" font-size="13.4" text-anchor="middle" fill="#161616" stroke="#161616" stroke-width="0.25">23</text>
<text transform="translate(165.55,836.30) scale(0.96,1)" font-size="13.4" text-anchor="middle" fill="#161616" stroke="#161616" stroke-width="0.25">27</text>
<rect x="211.90" y="940.60" width="21.50" height="55.90" fill="#f4b0dc" stroke="#262626" stroke-width="1.2"/>
<rect x="211.90" y="888.10" width="21.50" height="52.50" fill="#8cfafa" stroke="#262626" stroke-width="1.2"/>
<rect x="211.90" y="835.50" width="21.50" height="52.60" fill="#b0fbd0" stroke="#262626" stroke-width="1.2"/>
<rect x="211.90" y="779.00" width="21.50" height="56.50" fill="#dddddd" stroke="#262626" stroke-width="1.2"/>
<text transform="translate(222.65,993.30) scale(0.96,1)" font-size="13.4" text-anchor="middle" fill="#161616" stroke="#161616" stroke-width="0.25">26</text>
<text transform="translate(222.65,937.10) scale(0.96,1)" font-size="13.4" text-anchor="middle" fill="#161616" stroke="#161616" stroke-width="0.25">24</text>
<text transform="translate(222.65,883.40) scale(0.96,1)" font-size="13.4" text-anchor="middle" fill="#161616" stroke="#161616" stroke-width="0.25">24</text>
<text transform="translate(222.65,833.30) scale(0.96,1)" font-size="13.4" text-anchor="middle" fill="#161616" stroke="#161616" stroke-width="0.25">26</text>
<rect x="240.20" y="940.60" width="21.50" height="55.90" fill="#f4b0dc" stroke="#262626" stroke-width="1.2"/>
<rect x="240.20" y="890.20" width="21.50" height="50.40" fill="#8cfafa" stroke="#262626" stroke-width="1.2"/>
<rect x="240.20" y="833.20" width="21.50" height="57.00" fill="#b0fbd0" stroke="#262626" stroke-width="1.2"/>
<rect x="240.20" y="779.00" width="21.50" height="54.20" fill="#dddddd" stroke="#262626" stroke-width="1.2"/>
<text transform="translate(250.95,993.30) scale(0.96,1)" font-size="13.4" text-anchor="middle" fill="#161616" stroke="#161616" stroke-width="0.25">27</text>
<text transform="translate(250.95,937.10) scale(0.96,1)" font-size="13.4" text-anchor="middle" fill="#161616" stroke="#161616" stroke-width="0.25">23</text>
<text transform="translate(250.95,886.30) scale(0.96,1)" font-size="13.4" text-anchor="middle" fill="#161616" stroke="#161616" stroke-width="0.25">26</text>
<text transform="translate(250.95,830.10) scale(0.96,1)" font-size="13.4" text-anchor="middle" fill="#161616" stroke="#161616" stroke-width="0.25">25</text>
<rect x="268.60" y="944.60" width="21.50" height="51.90" fill="#f4b0dc" stroke="#262626" stroke-width="1.2"/>
<rect x="268.60" y="885.50" width="21.50" height="59.10" fill="#8cfafa" stroke="#262626" stroke-width="1.2"/>
<rect x="268.60" y="829.00" width="21.50" height="56.50" fill="#b0fbd0" stroke="#262626" stroke-width="1.2"/>
<rect x="268.60" y="779.00" width="21.50" height="50.00" fill="#dddddd" stroke="#262626" stroke-width="1.2"/>
<text transform="translate(279.35,993.30) scale(0.96,1)" font-size="13.4" text-anchor="middle" fill="#161616" stroke="#161616" stroke-width="0.25">24</text>
<text transform="translate(279.35,942.30) scale(0.96,1)" font-size="13.4" text-anchor="middle" fill="#161616" stroke="#161616" stroke-width="0.25">27</text>
<text transform="translate(279.35,883.10) scale(0.96,1)" font-size="13.4" text-anchor="middle" fill="#161616" stroke="#161616" stroke-width="0.25">26</text>
<text transform="translate(279.35,824.70) scale(0.96,1)" font-size="13.4" text-anchor="middle" fill="#161616" stroke="#161616" stroke-width="0.25">23</text>
<line x1="86.70" y1="778.50" x2="86.70" y2="997.00" stroke="#1e1e1e" stroke-width="1.15"/>
<line x1="79.20" y1="996.50" x2="86.70" y2="996.50" stroke="#1e1e1e" stroke-width="1.15"/>
<text transform="translate(73.10,1001.50) scale(1.07,1)" font-size="18.8" text-anchor="end" fill="#161616" stroke="#161616" stroke-width="0.42">0</text>
<line x1="79.20" y1="942.12" x2="86.70" y2="942.12" stroke="#1e1e1e" stroke-width="1.15"/>
<text transform="translate(74.80,947.12) scale(1.07,1)" font-size="18.8" text-anchor="end" fill="#161616" stroke="#161616" stroke-width="0.42">25</text>
<line x1="79.20" y1="887.75" x2="86.70" y2="887.75" stroke="#1e1e1e" stroke-width="1.15"/>
<text transform="translate(74.80,892.75) scale(1.07,1)" font-size="18.8" text-anchor="end" fill="#161616" stroke="#161616" stroke-width="0.42">50</text>
<line x1="79.20" y1="833.38" x2="86.70" y2="833.38" stroke="#1e1e1e" stroke-width="1.15"/>
<text transform="translate(74.80,838.38) scale(1.07,1)" font-size="18.8" text-anchor="end" fill="#161616" stroke="#161616" stroke-width="0.42">75</text>
<line x1="79.20" y1="779.00" x2="86.70" y2="779.00" stroke="#1e1e1e" stroke-width="1.15"/>
<text transform="translate(78.00,784.00) scale(1.07,1)" font-size="18.8" text-anchor="end" fill="#161616" stroke="#161616" stroke-width="0.42">100</text>
<line x1="79.20" y1="996.50" x2="302.70" y2="996.50" stroke="#1e1e1e" stroke-width="1.15"/>
<line x1="108.80" y1="996.50" x2="108.80" y2="1002.50" stroke="#1e1e1e" stroke-width="1.15"/>
<line x1="137.40" y1="996.50" x2="137.40" y2="1002.50" stroke="#1e1e1e" stroke-width="1.15"/>
<line x1="165.80" y1="996.50" x2="165.80" y2="1002.50" stroke="#1e1e1e" stroke-width="1.15"/>
<line x1="194.20" y1="996.50" x2="194.20" y2="1002.50" stroke="#1e1e1e" stroke-width="1.15"/>
<line x1="222.50" y1="996.50" x2="222.50" y2="1002.50" stroke="#1e1e1e" stroke-width="1.15"/>
<line x1="251.20" y1="996.50" x2="251.20" y2="1002.50" stroke="#1e1e1e" stroke-width="1.15"/>
<line x1="280.10" y1="996.50" x2="280.10" y2="1002.50" stroke="#1e1e1e" stroke-width="1.15"/>
<line x1="91.00" y1="1022.90" x2="290.80" y2="1022.90" stroke="#999999" stroke-width="1.3"/>
<line x1="91.00" y1="1046.50" x2="290.80" y2="1046.50" stroke="#999999" stroke-width="1.3"/>
<line x1="91.00" y1="1072.20" x2="290.80" y2="1072.20" stroke="#999999" stroke-width="1.3"/>
<text transform="translate(108.80,1018.20) scale(1.07,1)" font-size="10.6" text-anchor="middle" fill="#161616" stroke="#161616" stroke-width="0.22">1</text>
<text transform="translate(137.40,1018.20) scale(1.07,1)" font-size="10.6" text-anchor="middle" fill="#161616" stroke="#161616" stroke-width="0.22">2</text>
<text transform="translate(165.30,1018.20) scale(1.07,1)" font-size="10.6" text-anchor="middle" fill="#161616" stroke="#161616" stroke-width="0.22">3</text>
<text transform="translate(223.00,1018.20) scale(1.07,1)" font-size="10.6" text-anchor="middle" fill="#161616" stroke="#161616" stroke-width="0.22">1</text>
<text transform="translate(252.70,1018.20) scale(1.07,1)" font-size="10.6" text-anchor="middle" fill="#161616" stroke="#161616" stroke-width="0.22">2</text>
<text transform="translate(279.50,1018.20) scale(1.07,1)" font-size="10.6" text-anchor="middle" fill="#161616" stroke="#161616" stroke-width="0.22">3</text>
<text transform="translate(107.20,1037.90) scale(1.07,1)" font-size="10.6" text-anchor="middle" fill="#161616" stroke="#161616" stroke-width="0.22">1142</text>
<text transform="translate(140.50,1037.90) scale(1.07,1)" font-size="10.6" text-anchor="middle" fill="#161616" stroke="#161616" stroke-width="0.22">1025</text>
<text transform="translate(169.20,1037.90) scale(1.07,1)" font-size="10.6" text-anchor="middle" fill="#161616" stroke="#161616" stroke-width="0.22">931</text>
<text transform="translate(223.60,1037.90) scale(1.07,1)" font-size="10.6" text-anchor="middle" fill="#161616" stroke="#161616" stroke-width="0.22">832</text>
<text transform="translate(253.30,1037.90) scale(1.07,1)" font-size="10.6" text-anchor="middle" fill="#161616" stroke="#161616" stroke-width="0.22">1174</text>
<text transform="translate(283.50,1037.90) scale(1.07,1)" font-size="10.6" text-anchor="middle" fill="#161616" stroke="#161616" stroke-width="0.22">1094</text>
<text transform="translate(137.70,1064.30) scale(1.07,1)" font-size="10.6" text-anchor="middle" fill="#161616" stroke="#161616" stroke-width="0.22">1</text>
<text transform="translate(253.80,1064.30) scale(1.07,1)" font-size="10.6" text-anchor="middle" fill="#161616" stroke="#161616" stroke-width="0.22">3</text>
<text transform="translate(9.20,1038.30) scale(1.04,1)" font-size="19.6" text-anchor="start" fill="#161616" stroke="#161616" stroke-width="0.42">No.</text>
<text transform="translate(46.80,1038.30) scale(1.0,1)" font-size="19.6" text-anchor="start" fill="#161616" stroke="#161616" stroke-width="0.42">F</text>
<text transform="translate(58.80,1045.50) scale(1.07,1)" font-size="10.8" text-anchor="start" fill="#161616" stroke="#161616" stroke-width="0.42">2</text>
<text transform="translate(9.20,1068.40) scale(1.05,1)" font-size="19.6" text-anchor="start" fill="#161616" stroke="#161616" stroke-width="0.42">Cross</text>
<text transform="translate(344.00,714.00) scale(1.07,1)" font-size="22" text-anchor="start" fill="#161616" stroke="#161616" stroke-width="0.42">f</text>
<rect x="417.50" y="707.50" width="16.40" height="8.00" fill="#f4b0dc" stroke="#202020" stroke-width="1.45"/>
<text transform="translate(441.40,719.80) scale(1.0,1)" font-size="20.4" text-anchor="start" fill="#161616" stroke="#161616" stroke-width="0.42" font-style="italic">IE1-RFP</text>
<rect x="417.50" y="732.40" width="16.40" height="8.40" fill="#b0fbd0" stroke="#202020" stroke-width="1.45"/>
<text transform="translate(441.40,740.60) scale(1.0,1)" font-size="20.4" text-anchor="start" fill="#161616" stroke="#161616" stroke-width="0.42" font-style="italic">3xp3-CFP</text>
<text transform="translate(443.60,755.90) scale(0.965,1)" font-size="20.4" text-anchor="start" fill="#161616" stroke="#161616" stroke-width="0.42" font-style="italic">+IE1-RFP</text>
<rect x="565.30" y="707.50" width="16.40" height="8.00" fill="#8cfafa" stroke="#202020" stroke-width="1.45"/>
<text transform="translate(592.60,719.60) scale(1.0,1)" font-size="20.4" text-anchor="start" fill="#161616" stroke="#161616" stroke-width="0.42" font-style="italic">3xp3-CFP</text>
<rect x="565.30" y="736.40" width="16.40" height="8.60" fill="#9a9a9a" stroke="#202020" stroke-width="1.45"/>
<text transform="translate(592.60,748.50) scale(1.0,1)" font-size="20.4" text-anchor="start" fill="#161616" stroke="#161616" stroke-width="0.42" font-style="italic">WT</text>
<text transform="translate(396.60,1003.00) scale(1.07,1) rotate(-90)" font-size="19.8" text-anchor="start" fill="#161616" stroke="#161616" stroke-width="0.42">Fraction of Each Genotype (%)</text>
<rect x="453.10" y="942.50" width="21.80" height="54.00" fill="#f4b0dc" stroke="#262626" stroke-width="1.2"/>
<rect x="453.10" y="885.20" width="21.80" height="57.30" fill="#8cfafa" stroke="#262626" stroke-width="1.2"/>
<rect x="453.10" y="830.80" width="21.80" height="54.40" fill="#b0fbd0" stroke="#262626" stroke-width="1.2"/>
<rect x="453.10" y="778.00" width="21.80" height="52.80" fill="#dddddd" stroke="#262626" stroke-width="1.2"/>
<text transform="translate(464.00,993.30) scale(0.96,1)" font-size="13.4" text-anchor="middle" fill="#161616" stroke="#161616" stroke-width="0.25">25</text>
<text transform="translate(464.00,939.30) scale(0.96,1)" font-size="13.4" text-anchor="middle" fill="#161616" stroke="#161616" stroke-width="0.25">26</text>
<text transform="translate(464.00,883.40) scale(0.96,1)" font-size="13.4" text-anchor="middle" fill="#161616" stroke="#161616" stroke-width="0.25">25</text>
<text transform="translate(464.00,829.40) scale(0.96,1)" font-size="13.4" text-anchor="middle" fill="#161616" stroke="#161616" stroke-width="0.25">24</text>
<rect x="481.50" y="935.90" width="21.80" height="60.60" fill="#f4b0dc" stroke="#262626" stroke-width="1.2"/>
<rect x="481.50" y="894.50" width="21.80" height="41.40" fill="#8cfafa" stroke="#262626" stroke-width="1.2"/>
<rect x="481.50" y="828.70" width="21.80" height="65.80" fill="#b0fbd0" stroke="#262626" stroke-width="1.2"/>
<rect x="481.50" y="778.00" width="21.80" height="50.70" fill="#dddddd" stroke="#262626" stroke-width="1.2"/>
<text transform="translate(492.40,993.30) scale(0.96,1)" font-size="13.4" text-anchor="middle" fill="#161616" stroke="#161616" stroke-width="0.25">28</text>
<text transform="translate(492.40,934.20) scale(0.96,1)" font-size="13.4" text-anchor="middle" fill="#161616" stroke="#161616" stroke-width="0.25">19</text>
<text transform="translate(492.40,891.50) scale(0.96,1)" font-size="13.4" text-anchor="middle" fill="#161616" stroke="#161616" stroke-width="0.25">30</text>
<text transform="translate(492.40,827.20) scale(0.96,1)" font-size="13.4" text-anchor="middle" fill="#161616" stroke="#161616" stroke-width="0.25">23</text>
<rect x="509.90" y="937.80" width="21.80" height="58.70" fill="#f4b0dc" stroke="#262626" stroke-width="1.2"/>
<rect x="509.90" y="887.30" width="21.80" height="50.50" fill="#8cfafa" stroke="#262626" stroke-width="1.2"/>
<rect x="509.90" y="825.80" width="21.80" height="61.50" fill="#b0fbd0" stroke="#262626" stroke-width="1.2"/>
<rect x="509.90" y="778.00" width="21.80" height="47.80" fill="#dddddd" stroke="#262626" stroke-width="1.2"/>
<text transform="translate(520.80,993.30) scale(0.96,1)" font-size="13.4" text-anchor="middle" fill="#161616" stroke="#161616" stroke-width="0.25">27</text>
<text transform="translate(520.80,935.20) scale(0.96,1)" font-size="13.4" text-anchor="middle" fill="#161616" stroke="#161616" stroke-width="0.25">23</text>
<text transform="translate(520.80,884.20) scale(0.96,1)" font-size="13.4" text-anchor="middle" fill="#161616" stroke="#161616" stroke-width="0.25">28</text>
<text transform="translate(520.80,824.30) scale(0.96,1)" font-size="13.4" text-anchor="middle" fill="#161616" stroke="#161616" stroke-width="0.25">22</text>
<rect x="567.50" y="935.90" width="21.80" height="60.60" fill="#f4b0dc" stroke="#262626" stroke-width="1.2"/>
<rect x="567.50" y="890.00" width="21.80" height="45.90" fill="#8cfafa" stroke="#262626" stroke-width="1.2"/>
<rect x="567.50" y="839.30" width="21.80" height="50.70" fill="#b0fbd0" stroke="#262626" stroke-width="1.2"/>
<rect x="567.50" y="778.00" width="21.80" height="61.30" fill="#dddddd" stroke="#262626" stroke-width="1.2"/>
<text transform="translate(578.40,992.90) scale(0.96,1)" font-size="13.4" text-anchor="middle" fill="#161616" stroke="#161616" stroke-width="0.25">28</text>
<text transform="translate(578.40,933.60) scale(0.96,1)" font-size="13.4" text-anchor="middle" fill="#161616" stroke="#161616" stroke-width="0.25">21</text>
<text transform="translate(578.40,888.50) scale(0.96,1)" font-size="13.4" text-anchor="middle" fill="#161616" stroke="#161616" stroke-width="0.25">23</text>
<text transform="translate(578.40,837.70) scale(0.96,1)" font-size="13.4" text-anchor="middle" fill="#161616" stroke="#161616" stroke-width="0.25">28</text>
<rect x="595.90" y="944.50" width="21.80" height="52.00" fill="#f4b0dc" stroke="#262626" stroke-width="1.2"/>
<rect x="595.90" y="890.00" width="21.80" height="54.50" fill="#8cfafa" stroke="#262626" stroke-width="1.2"/>
<rect x="595.90" y="834.70" width="21.80" height="55.30" fill="#b0fbd0" stroke="#262626" stroke-width="1.2"/>
<rect x="595.90" y="778.00" width="21.80" height="56.70" fill="#dddddd" stroke="#262626" stroke-width="1.2"/>
<text transform="translate(606.80,992.90) scale(0.96,1)" font-size="13.4" text-anchor="middle" fill="#161616" stroke="#161616" stroke-width="0.25">24</text>
<text transform="translate(606.80,942.40) scale(0.96,1)" font-size="13.4" text-anchor="middle" fill="#161616" stroke="#161616" stroke-width="0.25">25</text>
<text transform="translate(606.80,888.50) scale(0.96,1)" font-size="13.4" text-anchor="middle" fill="#161616" stroke="#161616" stroke-width="0.25">25</text>
<text transform="translate(606.80,832.40) scale(0.96,1)" font-size="13.4" text-anchor="middle" fill="#161616" stroke="#161616" stroke-width="0.25">26</text>
<rect x="624.80" y="940.50" width="21.80" height="56.00" fill="#f4b0dc" stroke="#262626" stroke-width="1.2"/>
<rect x="624.80" y="881.00" width="21.80" height="59.50" fill="#8cfafa" stroke="#262626" stroke-width="1.2"/>
<rect x="624.80" y="828.00" width="21.80" height="53.00" fill="#b0fbd0" stroke="#262626" stroke-width="1.2"/>
<rect x="624.80" y="778.00" width="21.80" height="50.00" fill="#dddddd" stroke="#262626" stroke-width="1.2"/>
<text transform="translate(635.70,992.90) scale(0.96,1)" font-size="13.4" text-anchor="middle" fill="#161616" stroke="#161616" stroke-width="0.25">26</text>
<text transform="translate(635.70,937.10) scale(0.96,1)" font-size="13.4" text-anchor="middle" fill="#161616" stroke="#161616" stroke-width="0.25">27</text>
<text transform="translate(635.70,879.30) scale(0.96,1)" font-size="13.4" text-anchor="middle" fill="#161616" stroke="#161616" stroke-width="0.25">24</text>
<text transform="translate(635.70,826.90) scale(0.96,1)" font-size="13.4" text-anchor="middle" fill="#161616" stroke="#161616" stroke-width="0.25">23</text>
<line x1="441.80" y1="777.50" x2="441.80" y2="997.00" stroke="#1e1e1e" stroke-width="1.15"/>
<line x1="434.30" y1="996.50" x2="441.80" y2="996.50" stroke="#1e1e1e" stroke-width="1.15"/>
<text transform="translate(430.90,1001.50) scale(1.07,1)" font-size="13.7" text-anchor="end" fill="#161616" stroke="#161616" stroke-width="0.42">0</text>
<line x1="434.30" y1="941.88" x2="441.80" y2="941.88" stroke="#1e1e1e" stroke-width="1.15"/>
<text transform="translate(430.90,946.88) scale(1.07,1)" font-size="13.7" text-anchor="end" fill="#161616" stroke="#161616" stroke-width="0.42">25</text>
<line x1="434.30" y1="887.25" x2="441.80" y2="887.25" stroke="#1e1e1e" stroke-width="1.15"/>
<text transform="translate(430.90,892.25) scale(1.07,1)" font-size="13.7" text-anchor="end" fill="#161616" stroke="#161616" stroke-width="0.42">50</text>
<line x1="434.30" y1="832.62" x2="441.80" y2="832.62" stroke="#1e1e1e" stroke-width="1.15"/>
<text transform="translate(430.90,837.62) scale(1.07,1)" font-size="13.7" text-anchor="end" fill="#161616" stroke="#161616" stroke-width="0.42">75</text>
<line x1="434.30" y1="778.00" x2="441.80" y2="778.00" stroke="#1e1e1e" stroke-width="1.15"/>
<text transform="translate(430.90,783.00) scale(1.07,1)" font-size="13.7" text-anchor="end" fill="#161616" stroke="#161616" stroke-width="0.42">100</text>
<line x1="434.30" y1="996.50" x2="659.30" y2="996.50" stroke="#1e1e1e" stroke-width="1.15"/>
<line x1="463.90" y1="996.50" x2="463.90" y2="1002.50" stroke="#1e1e1e" stroke-width="1.15"/>
<line x1="492.80" y1="996.50" x2="492.80" y2="1002.50" stroke="#1e1e1e" stroke-width="1.15"/>
<line x1="521.10" y1="996.50" x2="521.10" y2="1002.50" stroke="#1e1e1e" stroke-width="1.15"/>
<line x1="550.00" y1="996.50" x2="550.00" y2="1002.50" stroke="#1e1e1e" stroke-width="1.15"/>
<line x1="578.30" y1="996.50" x2="578.30" y2="1002.50" stroke="#1e1e1e" stroke-width="1.15"/>
<line x1="607.20" y1="996.50" x2="607.20" y2="1002.50" stroke="#1e1e1e" stroke-width="1.15"/>
<line x1="635.80" y1="996.50" x2="635.80" y2="1002.50" stroke="#1e1e1e" stroke-width="1.15"/>
<line x1="444.30" y1="1020.80" x2="645.80" y2="1020.80" stroke="#999999" stroke-width="1.3"/>
<line x1="444.30" y1="1046.40" x2="645.80" y2="1046.40" stroke="#999999" stroke-width="1.3"/>
<line x1="444.30" y1="1072.20" x2="645.80" y2="1072.20" stroke="#999999" stroke-width="1.3"/>
<text transform="translate(463.90,1015.20) scale(1.07,1)" font-size="10.6" text-anchor="middle" fill="#161616" stroke="#161616" stroke-width="0.22">1</text>
<text transform="translate(493.30,1015.20) scale(1.07,1)" font-size="10.6" text-anchor="middle" fill="#161616" stroke="#161616" stroke-width="0.22">2</text>
<text transform="translate(521.00,1015.20) scale(1.07,1)" font-size="10.6" text-anchor="middle" fill="#161616" stroke="#161616" stroke-width="0.22">3</text>
<text transform="translate(578.30,1015.20) scale(1.07,1)" font-size="10.6" text-anchor="middle" fill="#161616" stroke="#161616" stroke-width="0.22">1</text>
<text transform="translate(608.00,1015.20) scale(1.07,1)" font-size="10.6" text-anchor="middle" fill="#161616" stroke="#161616" stroke-width="0.22">2</text>
<text transform="translate(635.00,1015.20) scale(1.07,1)" font-size="10.6" text-anchor="middle" fill="#161616" stroke="#161616" stroke-width="0.22">3</text>
<text transform="translate(460.60,1037.90) scale(1.07,1)" font-size="10.6" text-anchor="middle" fill="#161616" stroke="#161616" stroke-width="0.22">1142</text>
<text transform="translate(494.80,1037.90) scale(1.07,1)" font-size="10.6" text-anchor="middle" fill="#161616" stroke="#161616" stroke-width="0.22">1025</text>
<text transform="translate(523.50,1037.90) scale(1.07,1)" font-size="10.6" text-anchor="middle" fill="#161616" stroke="#161616" stroke-width="0.22">931</text>
<text transform="translate(577.50,1037.90) scale(1.07,1)" font-size="10.6" text-anchor="middle" fill="#161616" stroke="#161616" stroke-width="0.22">832</text>
<text transform="translate(607.20,1037.90) scale(1.07,1)" font-size="10.6" text-anchor="middle" fill="#161616" stroke="#161616" stroke-width="0.22">1174</text>
<text transform="translate(636.90,1037.90) scale(1.07,1)" font-size="10.6" text-anchor="middle" fill="#161616" stroke="#161616" stroke-width="0.22">1094</text>
<text transform="translate(491.50,1064.30) scale(1.07,1)" font-size="10.6" text-anchor="middle" fill="#161616" stroke="#161616" stroke-width="0.22">2</text>
<text transform="translate(607.50,1064.30) scale(1.07,1)" font-size="10.6" text-anchor="middle" fill="#161616" stroke="#161616" stroke-width="0.22">4</text>
</svg>
</body></html>
